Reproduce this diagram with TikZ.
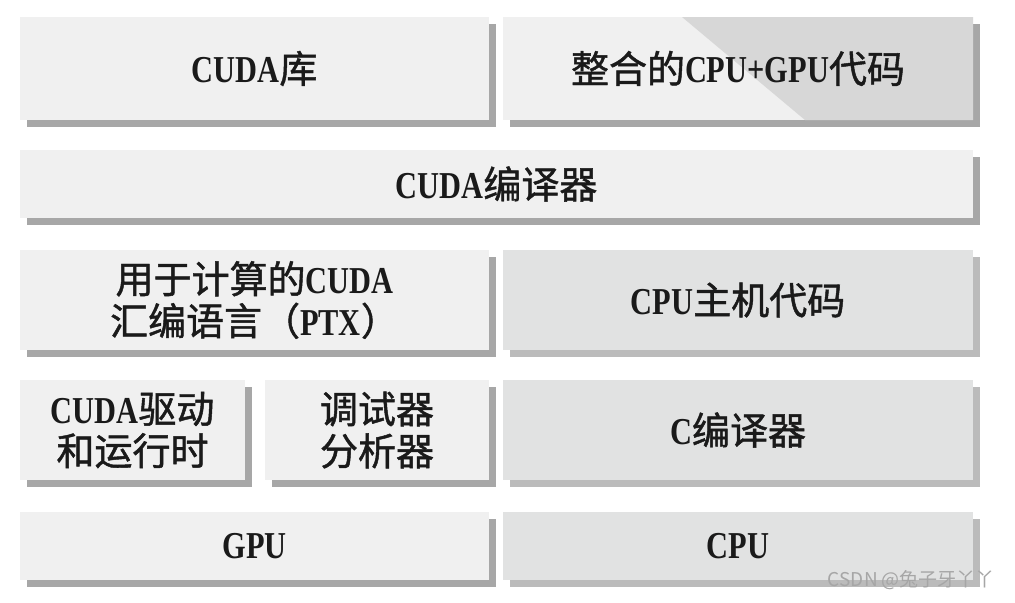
\documentclass[tikz,border=0pt]{standalone}
\usepackage{fontspec}
\setmainfont{Liberation Serif}[FakeStretch=0.8]
\newfontfamily\cjkfont{Noto Sans CJK SC}[FakeBold=1.2]
\newfontfamily\markfont{Noto Sans CJK SC}
\usetikzlibrary{shadows}

\definecolor{paleface}{HTML}{F0F0F0}
\definecolor{greyface}{HTML}{E1E2E2}
\definecolor{wedgegrey}{HTML}{D7D7D7}
\definecolor{deepshade}{HTML}{A7A7A7}
\definecolor{softshade}{HTML}{BBBBBB}
\definecolor{ink}{HTML}{1A1A1A}

\newcommand{\zh}[1]{{\cjkfont\mdseries #1}}

\tikzset{
  box/.style={rectangle, inner sep=0pt, text=ink, align=center,
    font=\bfseries\fontsize{19}{21}\selectfont},
  gpubox/.style={box, fill=paleface,
    general shadow={fill=deepshade, shadow xshift=3.5pt, shadow yshift=-3.5pt}},
  cpubox/.style={box, fill=greyface,
    general shadow={fill=softshade, shadow xshift=3.5pt, shadow yshift=-3.5pt}},
}

\begin{document}
\begin{tikzpicture}[
    x = 0.5pt,
    y = -0.5pt,
    ]
    \useasboundingbox[fill=white] (0,0) rectangle (1015,602);
    % top row
    \node[gpubox, minimum width=234.5pt, minimum height=51.5pt]
      (lib) at (254.5, 68.5) {CUDA\zh{库}};
    \node[gpubox, minimum width=235pt, minimum height=51.5pt,
      path picture={\fill[wedgegrey]
        ([xshift=89.5pt]path picture bounding box.north west)
        -- (path picture bounding box.north east)
        -- (path picture bounding box.south east)
        -- ([xshift=151pt]path picture bounding box.south west) -- cycle;}]
      (mix) at (738, 68.5) {\zh{整合的}CPU+GPU\zh{代码}};
    % compiler row
    \node[gpubox, minimum width=476.5pt, minimum height=34pt]
      (nvcc) at (496.5, 184) {CUDA\zh{编译器}};
    % code row
    \node[gpubox, minimum width=234.5pt, minimum height=50pt]
      (ptx) at (254.5, 300) {\zh{用于计算的}CUDA\\\zh{汇编语言（}PTX\zh{）}};
    \node[cpubox, minimum width=235pt, minimum height=50pt]
      (host) at (738, 300) {CPU\zh{主机代码}};
    % tools row
    \node[gpubox, minimum width=112.5pt, minimum height=50pt]
      (drv) at (132.5, 430) {CUDA\zh{驱动}\\\zh{和运行时}};
    \node[gpubox, minimum width=112pt, minimum height=50pt]
      (dbg) at (377, 430) {\zh{调试器}\\\zh{分析器}};
    \node[cpubox, minimum width=235pt, minimum height=50pt]
      (cc) at (738, 430) {C\zh{编译器}};
    % hardware row
    \node[gpubox, minimum width=234.5pt, minimum height=34pt]
      (gpu) at (254.5, 546) {GPU};
    \node[cpubox, minimum width=235pt, minimum height=34pt]
      (cpu) at (738, 546) {CPU};
    % watermark
    \node[font=\markfont\fontsize{9.5}{10}\selectfont, text=gray!70, anchor=east]
      (mark) at (1002, 580) {CSDN @兔子牙丫丫};
  \end{tikzpicture}
\end{document}
